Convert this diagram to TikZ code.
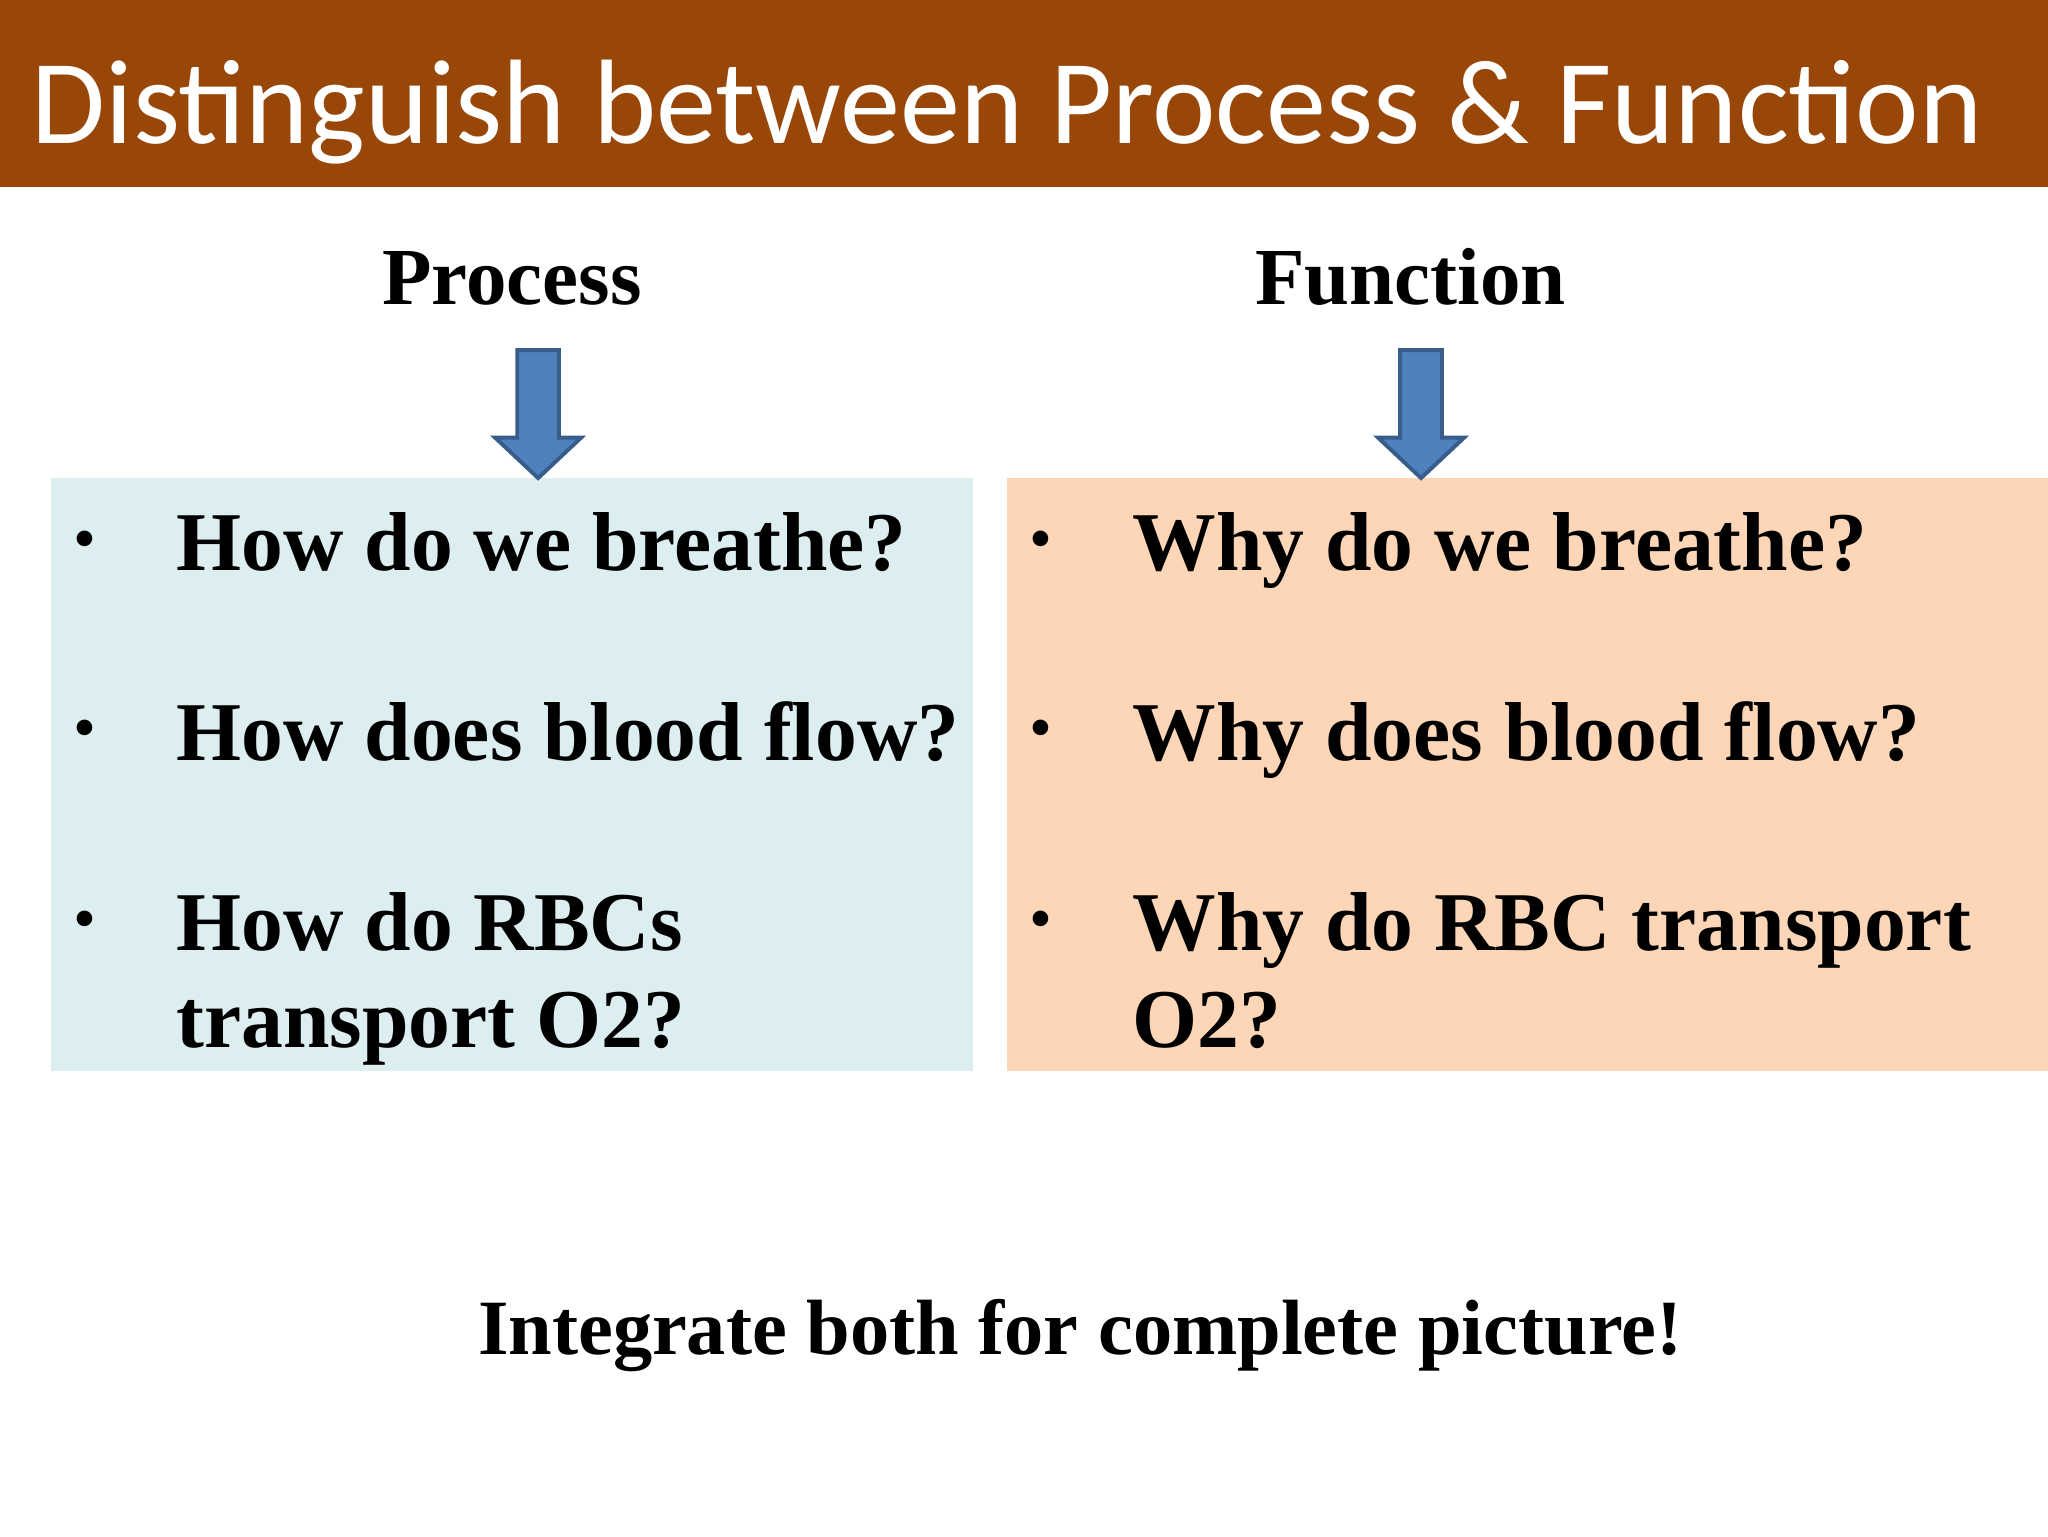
\documentclass[tikz,border=0pt]{standalone}
\usepackage{fontspec}
\setmainfont{Liberation Serif}
\newfontfamily\titlefont{Carlito}
\definecolor{bar}{HTML}{984709}
\definecolor{lblue}{HTML}{DDEEF1}
\definecolor{lorange}{HTML}{FCD6B6}
\definecolor{arrfill}{HTML}{4F81BD}
\definecolor{arrline}{HTML}{385D8A}
\begin{document}
\begin{tikzpicture}[x=1pt,y=-1pt,
  body/.style={anchor=base west,inner sep=0pt,font=\fontsize{64}{64}\selectfont\bfseries},
  bul/.style={anchor=base,inner sep=0pt,font=\fontsize{50}{50}\selectfont},
  head/.style={anchor=base,inner sep=0pt,font=\fontsize{62}{62}\selectfont\bfseries},
  blk/.style={fill=arrfill,draw=arrline,line width=3pt,line join=miter}]
\useasboundingbox (0,0) rectangle (1568,1176);
\fill[bar] (0,0) rectangle (1568,143);
\node[anchor=base west,inner sep=0pt,text=white,font=\titlefont\fontsize{92}{92}\selectfont] (title) at (24,110) {Distinguish between Process \& Function};
\fill[lblue] (39,366) rectangle (745,820);
\fill[lorange] (771,366) rectangle (1568,820);
\node[head] (proc) at (392,233) {Process};
\node[head] (func) at (1080,233) {Function};
\foreach \c in {412,1088}{
  \draw[blk] (\c-16,268) -- (\c+16,268) -- (\c+16,335) -- (\c+33,335) -- (\c,366) -- (\c-33,335) -- (\c-16,335) -- cycle;
}
\foreach \y/\t [count=\i] in {437/How do we breathe?,582/How does blood flow?,728/How do RBCs}{
  \node[bul] (lb\i) at (65,\y-8) {•};
  \node[body] (l\i) at (135,\y) {\t};
}
\node[body] (l4) at (135,802) {transport O2?};
\foreach \y/\t [count=\i] in {437/Why do we breathe?,582/Why does blood flow?,728/Why do RBC transport}{
  \node[bul] (rb\i) at (797,\y-8) {•};
  \node[body] (r\i) at (867,\y) {\t};
}
\node[body] (r4) at (867,802) {O2?};
\node[head,font=\fontsize{60}{60}\selectfont\bfseries] (bottom) at (827,1037) {Integrate both for complete picture!};
\end{tikzpicture}
\end{document}
